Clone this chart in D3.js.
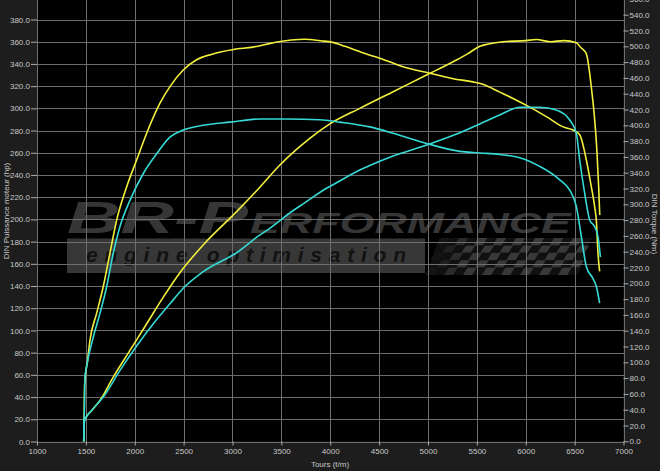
<!DOCTYPE html>
<html><head><meta charset="utf-8">
<script src="https://cdn.jsdelivr.net/npm/d3@7"></script>
<style>html,body{margin:0;padding:0;background:#1d1d1d;overflow:hidden}svg{display:block}</style>
</head><body><svg id="c" width="660" height="471"></svg>
<script>
// ---- tick labels ----
const rpmTicks = [1000,1500,2000,2500,3000,3500,4000,4500,5000,5500,6000,6500,7000];
const hpTicks = [0,20,40,60,80,100,120,140,160,180,200,220,240,260,280,300,320,340,360,380,400];
const nmTicks = [0,20,40,60,80,100,120,140,160,180,200,220,240,260,280,300,320,340,360,380,400,420,440,460,480,500,520,540,560];

// ---- series: yellow torque (Nm, right axis) ----
const yTorqueRpm = [1478,1483,1487,1520,1542,1610,1678,1746,1815,1917,2019,2122,2258,2360,2496,2633,2790,3010,3210,3400,3600,3741,3900,4025,4150,4284,4400,4507,4745,5018,5257,5461,5560,5734,5870,6041,6211,6382,6484,6552,6620,6671,6705,6722,6739,6756];
const yTorqueNm  = [0,35,70,105,128,162,196,238,280,322,356,390,428,449,470,483,490,496,499,504,508,509,507,505,500,494,489,485,474,466,459,455,452,442,434,423,411,398,394,388,356,322,297,280,238,215];

// ---- series: cyan torque (Nm, right axis) ----
const cTorqueRpm = [1478,1485,1490,1508,1576,1644,1713,1780,1849,1951,2087,2224,2360,2496,2700,2973,3280,3553,3894,4098,4405,4643,4985,5325,5530,5734,5939,6143,6348,6450,6518,6569,6620,6688,6722,6756];
const cTorqueNm  = [0,45,80,95,132,162,196,238,272,305,339,364,385,394,400,404,408,408,407,404,398,390,377,367,365,363,359,348,331,318,297,259,221,206,196,175];

// ---- series: yellow power (hp, left axis) ----
const yPowerRpm = [1478,1483,1491,1560,1644,1780,1951,2122,2292,2462,2700,3042,3280,3485,3655,3791,3996,4302,4643,4985,5257,5404,5530,5620,5768,6000,6108,6250,6389,6518,6560,6620,6671,6705,6729,6746,6757];
const yPowerHp  = [0,18,20,28,37,58,82,106,130,152,177,207,229,249,263,273,286,300,315,330,342,349,356,358,360,361,362,360,361,359,355,349,319,290,260,229,204];

// ---- series: cyan power (hp, left axis) ----
const cPowerRpm = [1478,1483,1491,1560,1678,1849,2019,2190,2360,2496,2700,3042,3280,3382,3621,3723,3962,4064,4302,4405,4643,4985,5325,5530,5734,5939,6143,6313,6450,6518,6552,6603,6654,6705,6739,6764];
const cPowerHp  = [0,17,19.5,28,40,64,86,106,124,138,153,170,186,192,208,214,228,233,244.5,248.5,257,267,278,286,294,301,301,298.5,289.5,277.5,253.5,223.5,199.5,193.4,184.4,166];

// ---- colours ----
const YELLOW = "#f2f03c", CYAN = "#35d9d6";

const svg = d3.select("#c");
const x  = d3.scaleLinear().domain([1000,7000]).range([37,623.5]);
const yL = d3.scaleLinear().domain([0,400]).range([441.5,-2.7]);
const yR = d3.scaleLinear().domain([0,560]).range([441.3,-1.1]);
const X0 = x(1000), X1 = x(7000), Y0 = yL(0);

svg.append("rect").attr("width",660).attr("height",471).attr("fill","#1d1d1d");
svg.append("rect").attr("x",X0).attr("y",0).attr("width",X1-X0).attr("height",Y0).attr("fill","#000");

// ---- watermark ----
const wm = svg.append("g");
wm.append("text").attr("x",67).attr("y",233).attr("fill","#363636")
  .attr("font-family","Liberation Sans, Arial, sans-serif").attr("font-weight","bold").attr("font-style","italic")
  .attr("font-size",45).attr("textLength",181).attr("lengthAdjust","spacingAndGlyphs").text("BR-P");
wm.append("text").attr("x",250).attr("y",233).attr("fill","#363636")
  .attr("font-family","Liberation Sans, Arial, sans-serif").attr("font-weight","bold").attr("font-style","italic")
  .attr("font-size",29).attr("textLength",321).attr("lengthAdjust","spacingAndGlyphs").text("ERFORMANCE");
wm.append("rect").attr("x",67).attr("y",238.5).attr("width",358).attr("height",34.5).attr("fill","#373737");
wm.append("text").attr("x",86).attr("y",262).attr("fill","#121212")
  .attr("font-family","Liberation Sans, Arial, sans-serif").attr("font-weight","bold").attr("font-style","italic")
  .attr("font-size",21).attr("textLength",320).attr("lengthAdjust","spacing").text("engine optimisation");
// checkered flag
const flag = wm.append("g").attr("transform","translate(440,238) skewX(-32)");
const rows = 5, cols = 16, cw = 9.5, ch = 7.4;
for (let r=0;r<rows;r++) for (let c=0;c<cols;c++) {
  if ((r+c)%2===0) flag.append("rect").attr("x",c*cw + r*2).attr("y",r*ch).attr("width",cw).attr("height",ch)
     .attr("fill","#383838").attr("opacity", c<3 ? 0.35+0.2*c : 1);
  else flag.append("rect").attr("x",c*cw + r*2).attr("y",r*ch).attr("width",cw).attr("height",ch)
     .attr("fill","#1a1a1a").attr("opacity",0.6);
}

// ---- grid ----
const grid = svg.append("g").attr("stroke","#6e6e6e").attr("stroke-width",1).attr("shape-rendering","crispEdges");
grid.selectAll("line.h").data(hpTicks).join("line").attr("class","h")
  .attr("x1",X0).attr("x2",X1).attr("y1",d=>Math.round(yL(d))+0.5).attr("y2",d=>Math.round(yL(d))+0.5);
grid.selectAll("line.v").data(rpmTicks).join("line").attr("class","v")
  .attr("x1",d=>Math.round(x(d))+0.5).attr("x2",d=>Math.round(x(d))+0.5).attr("y1",0).attr("y2",Y0);

// ---- axes ----
const fmt = d3.format(".1f");
function styleAxis(g){
  g.select(".domain").remove();
  g.selectAll(".tick line").attr("stroke","#aaa");
  g.selectAll("text").attr("fill","#c8c8c8").attr("font-size",8).attr("font-family","Liberation Sans, Arial, sans-serif");
}
svg.append("g").attr("transform",`translate(${X0},0)`)
  .call(d3.axisLeft(yL).tickValues(hpTicks).tickFormat(fmt).tickSize(6).tickPadding(1)).call(styleAxis);
svg.append("g").attr("transform",`translate(${X1},0)`)
  .call(d3.axisRight(yR).tickValues(nmTicks).tickFormat(fmt).tickSize(5).tickPadding(1)).call(styleAxis);
svg.append("g").attr("transform",`translate(0,${Y0})`)
  .call(d3.axisBottom(x).tickValues(rpmTicks).tickFormat(d3.format("d")).tickSize(4).tickPadding(3)).call(styleAxis);

svg.append("text").attr("x",330).attr("y",467).attr("text-anchor","middle").attr("fill","#c8c8c8")
  .attr("font-size",8).attr("font-family","Liberation Sans, Arial, sans-serif").text("Tours (t/m)");
svg.append("text").attr("transform","translate(9,211) rotate(-90)").attr("text-anchor","middle").attr("fill","#c8c8c8")
  .attr("font-size",8).attr("font-family","Liberation Sans, Arial, sans-serif").text("DIN Puissance moteur (hp)");
svg.append("text").attr("transform","translate(652,224) rotate(90)").attr("text-anchor","middle").attr("fill","#c8c8c8")
  .attr("font-size",8).attr("font-family","Liberation Sans, Arial, sans-serif").text("DIN Torque (Nm)");

// ---- curves ----
function draw(rpms, vals, ys, color){
  const pts = rpms.map((r,i)=>[r, vals[i]]);
  const line = d3.line().x(d=>x(d[0])).y(d=>ys(d[1])).curve(d3.curveMonotoneX);
  svg.append("path").datum(pts).attr("d",line).attr("fill","none").attr("stroke",color)
    .attr("stroke-width",1.6).attr("stroke-linejoin","round");
}
draw(yTorqueRpm, yTorqueNm, yR, YELLOW);
draw(yPowerRpm, yPowerHp, yL, YELLOW);
draw(cTorqueRpm, cTorqueNm, yR, CYAN);
draw(cPowerRpm, cPowerHp, yL, CYAN);
</script></body></html>
